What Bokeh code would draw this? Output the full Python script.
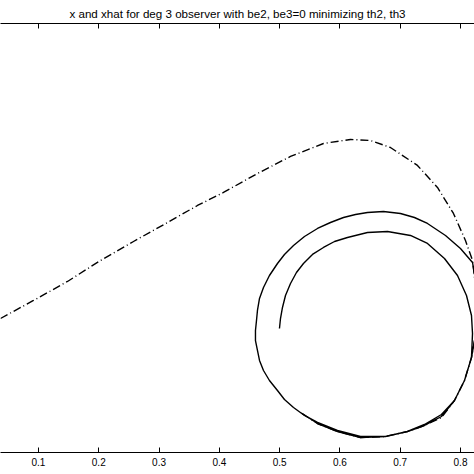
from bokeh.plotting import figure
from bokeh.models import LinearAxis, FixedTicker, Range1d
from bokeh.embed import file_html
from bokeh.resources import INLINE

# state x (solid): spiral converging to the limit cycle
x1 = [0.4997, 0.5014, 0.5047, 0.5097, 0.5180, 0.5279, 0.5395, 0.5545, 0.5727, 0.5910,
      0.6125, 0.6457, 0.6789, 0.7170, 0.7452, 0.7734, 0.7950, 0.8099, 0.8182, 0.8199,
      0.8182, 0.8066, 0.7900, 0.7684, 0.7402, 0.7120, 0.6755, 0.6341, 0.5959, 0.5628,
      0.5412, 0.5230, 0.5080, 0.4964, 0.4831, 0.4732, 0.4666, 0.4632, 0.4599, 0.4599,
      0.4616, 0.4632, 0.4666, 0.4732, 0.4831, 0.4964, 0.5080, 0.5230, 0.5412, 0.5628,
      0.5843, 0.6059, 0.6258, 0.6457, 0.6722, 0.7004, 0.7236, 0.7452, 0.7751, 0.7999,
      0.8199, 0.8265, 0.8281, 0.8248, 0.8182, 0.8066, 0.7900, 0.7684, 0.7402, 0.7120,
      0.6755, 0.6341, 0.5959, 0.5628, 0.5346]
x2 = [0.0056, 0.0222, 0.0405, 0.0604, 0.0803, 0.0985, 0.1134, 0.1284, 0.1400, 0.1499,
      0.1565, 0.1648, 0.1665, 0.1599, 0.1466, 0.1217, 0.0935, 0.0604, 0.0272, -0.0027,
      -0.0425, -0.0806, -0.1138, -0.1370, -0.1536, -0.1652, -0.1735, -0.1735, -0.1635, -0.1502,
      -0.1386, -0.1254, -0.1121, -0.0972, -0.0806, -0.0640, -0.0474, -0.0308, -0.0143, 0.0023,
      0.0189, 0.0355, 0.0554, 0.0736, 0.0935, 0.1134, 0.1284, 0.1433, 0.1582, 0.1715,
      0.1814, 0.1897, 0.1947, 0.1980, 0.1997, 0.1964, 0.1897, 0.1798, 0.1599, 0.1383,
      0.1151, 0.0769, 0.0355, -0.0060, -0.0425, -0.0806, -0.1138, -0.1403, -0.1552, -0.1652,
      -0.1735, -0.1751, -0.1652, -0.1519, -0.1337]

# observer estimate xhat (dash-dot)
xh1 = [0.0370, 0.0917, 0.1481, 0.2028, 0.2576, 0.3140, 0.3637, 0.4068, 0.4632, 0.5180,
       0.5727, 0.6175, 0.6507, 0.6838, 0.7286, 0.7618, 0.7883, 0.8082, 0.8199, 0.8248,
       0.8265, 0.8248, 0.8182, 0.8066, 0.7900, 0.7684, 0.7402, 0.7120, 0.6755, 0.6341,
       0.5959, 0.5628, 0.5346]
xh2 = [0.0222, 0.0521, 0.0836, 0.1184, 0.1499, 0.1814, 0.2096, 0.2312, 0.2627, 0.2909,
       0.3124, 0.3191, 0.3174, 0.3058, 0.2760, 0.2395, 0.1964, 0.1516, 0.1184, 0.0769,
       0.0355, -0.0060, -0.0425, -0.0806, -0.1138, -0.1420, -0.1552, -0.1652, -0.1735, -0.1751,
       -0.1652, -0.1519, -0.1337]

x_ticks = [0.1, 0.2, 0.3, 0.4, 0.5, 0.6, 0.7, 0.8]
title_text = "x and xhat for deg 3 observer with be2, be3=0 minimizing th2, th3"

FONT = "Liberation Sans"

p = figure(width=474, height=474, output_backend="svg", toolbar_location=None,
           x_range=Range1d(0.0370, 0.8232), y_range=Range1d(-0.2, 0.5114),
           min_border_left=0, min_border_right=0, min_border_top=23, min_border_bottom=22,
           x_axis_location=None, y_axis_location=None)
p.outline_line_color = None
p.grid.visible = False
p.background_fill_color = "white"
p.border_fill_color = "white"

p.title.text = title_text
p.title.text_font = FONT
p.title.text_font_size = "11.6px"
p.title.text_font_style = "normal"
p.title.text_color = "black"
p.title.align = "center"
p.title.standoff = 7
p.title.offset = 9

ticker = FixedTicker(ticks=x_ticks)
bottom = LinearAxis(ticker=ticker)
top = LinearAxis(ticker=ticker)
for ax in (bottom, top):
    ax.major_tick_in = 5
    ax.major_tick_out = 0
    ax.minor_tick_in = 0
    ax.minor_tick_out = 0
    ax.axis_line_color = "black"
    ax.axis_line_width = 1
    ax.major_tick_line_color = "black"
    ax.major_label_text_font = FONT
    ax.major_label_text_font_size = "10px"
    ax.major_label_text_color = "black"
top.major_label_text_color = None
top.major_label_text_font_size = "1px"
top.major_label_standoff = 0
bottom.major_label_standoff = 5
p.add_layout(bottom, "below")
p.add_layout(top, "above")

p.line(x1, x2, line_color="black", line_width=1.4, line_join="round")
p.line(xh1, xh2, line_color="black", line_width=1.4, line_dash="8 3 1 3")

html = file_html(p, INLINE)
open("out.html", "w").write(html)
